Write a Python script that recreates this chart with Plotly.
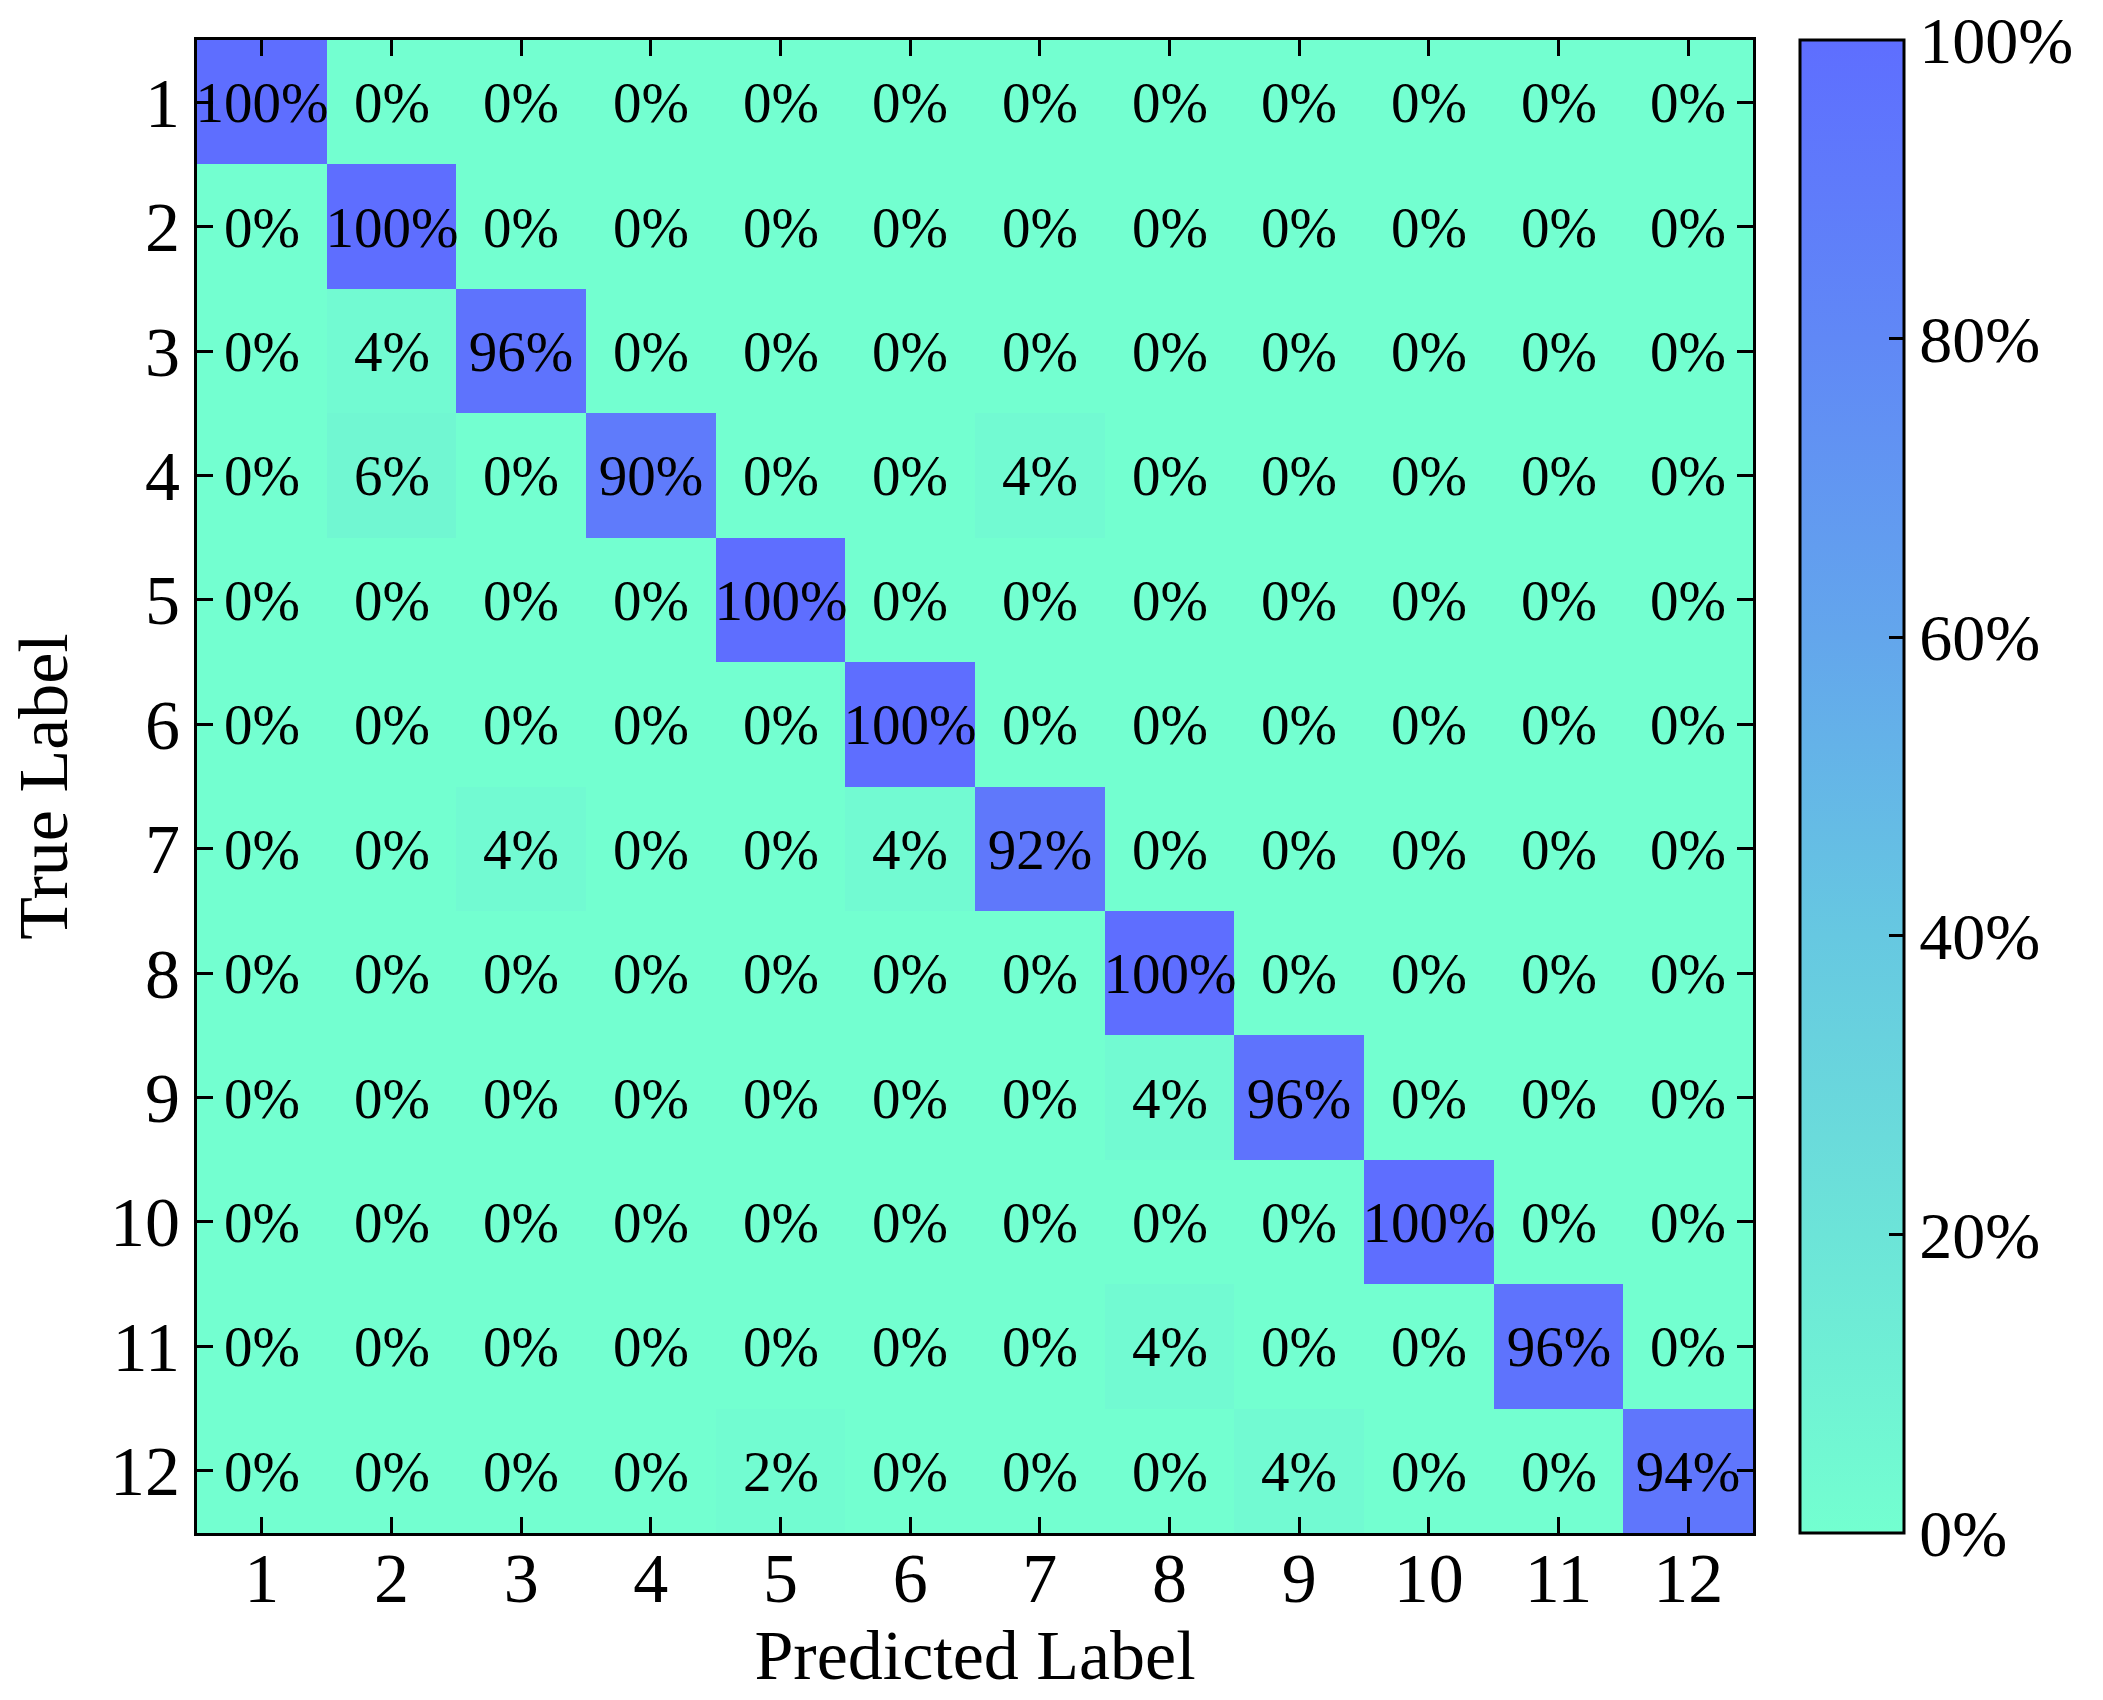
import plotly.graph_objects as go

# confusion matrix values in percent (rows = true label, cols = predicted label)
labels = ["1", "2", "3", "4", "5", "6", "7", "8", "9", "10", "11", "12"]
row_1 = [100, 0, 0, 0, 0, 0, 0, 0, 0, 0, 0, 0]
row_2 = [0, 100, 0, 0, 0, 0, 0, 0, 0, 0, 0, 0]
row_3 = [0, 4, 96, 0, 0, 0, 0, 0, 0, 0, 0, 0]
row_4 = [0, 6, 0, 90, 0, 0, 4, 0, 0, 0, 0, 0]
row_5 = [0, 0, 0, 0, 100, 0, 0, 0, 0, 0, 0, 0]
row_6 = [0, 0, 0, 0, 0, 100, 0, 0, 0, 0, 0, 0]
row_7 = [0, 0, 4, 0, 0, 4, 92, 0, 0, 0, 0, 0]
row_8 = [0, 0, 0, 0, 0, 0, 0, 100, 0, 0, 0, 0]
row_9 = [0, 0, 0, 0, 0, 0, 0, 4, 96, 0, 0, 0]
row_10 = [0, 0, 0, 0, 0, 0, 0, 0, 0, 100, 0, 0]
row_11 = [0, 0, 0, 0, 0, 0, 0, 4, 0, 0, 96, 0]
row_12 = [0, 0, 0, 0, 2, 0, 0, 0, 4, 0, 0, 94]
cbar_ticks = [0, 20, 40, 60, 80, 100]
cbar_labels = ["0%", "20%", "40%", "60%", "80%", "100%"]

matrix = [row_1, row_2, row_3, row_4, row_5, row_6,
          row_7, row_8, row_9, row_10, row_11, row_12]
cell_text = [[f"{v}%" for v in row] for row in matrix]

FONT = "Liberation Serif"

fig = go.Figure()
fig.add_trace(
    go.Heatmap(
        z=matrix,
        x=labels,
        y=labels,
        text=cell_text,
        texttemplate="%{text}",
        textfont=dict(family=FONT, size=57, color="black"),
        colorscale=[
            [0, "rgb(115,255,208)"],
            [0.2, "rgb(108,228,216)"],
            [0.4, "rgb(102,200,225)"],
            [0.6, "rgb(99,166,236)"],
            [0.8, "rgb(96,136,246)"],
            [1, "rgb(94,110,255)"],
        ],
        zmin=0,
        zmax=100,
        colorbar=dict(
            thickness=104,
            len=1,
            lenmode="fraction",
            y=0.5,
            yanchor="middle",
            x=1.03,
            xanchor="left",
            xpad=0,
            ypad=0,
            outlinewidth=3,
            outlinecolor="black",
            tickmode="array",
            tickvals=cbar_ticks,
            ticktext=cbar_labels,
            ticks="inside",
            ticklen=16,
            tickwidth=3,
            tickcolor="black",
            tickfont=dict(family=FONT, size=66, color="black"),
        ),
        showscale=True,
    )
)

axis_style = dict(
    showline=True,
    linewidth=3,
    linecolor="black",
    mirror="ticks",
    ticks="inside",
    ticklen=16,
    tickwidth=3,
    tickcolor="black",
    showgrid=False,
    zeroline=False,
    tickfont=dict(family=FONT, size=70, color="black"),
)

fig.update_xaxes(
    **axis_style,
    ticklabelstandoff=-18,
    title=dict(text="Predicted Label", font=dict(family=FONT, size=70, color="black"), standoff=0),
)
fig.update_yaxes(
    **axis_style,
    autorange="reversed",
    title=dict(text="True Label", font=dict(family=FONT, size=70, color="black"), standoff=20),
)

fig.update_layout(
    width=2103,
    height=1700,
    margin=dict(l=197, r=350, t=40, b=167, autoexpand=False),
    plot_bgcolor="white",
    paper_bgcolor="white",
    font=dict(family=FONT, color="black"),
)

# drop the browser's default 8px body margin so the figure sits at the page corner
fig.write_html(
    "out.html",
    config={"displayModeBar": False},
    post_script="document.body.style.margin = '0';",
)
